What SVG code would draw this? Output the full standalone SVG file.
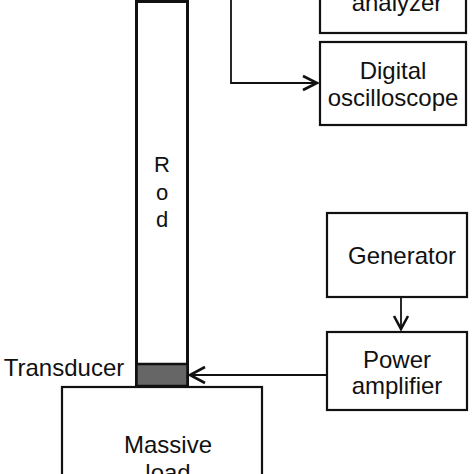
<svg xmlns="http://www.w3.org/2000/svg" width="474" height="474" viewBox="0 0 474 474">
<style>
.box{fill:#fff;stroke:#111;stroke-width:2.2}
.rod{fill:#fff;stroke:#111;stroke-width:3}
.t{font-family:"Liberation Sans",Arial,sans-serif;font-size:24px;fill:#111;text-anchor:middle}
.r{font-size:22px}
.ln{fill:none;stroke:#111;stroke-width:1.8}
.ah{fill:none;stroke:#111;stroke-width:2.6;stroke-linejoin:miter}
</style>
<rect width="474" height="474" fill="#fff"/>
<g id="rod">
<rect class="rod" x="136.5" y="1.5" width="51" height="383"/>
<text class="t r" x="162" y="172">R</text>
<text class="t r" x="162" y="200">o</text>
<text class="t r" x="162" y="227">d</text>
</g>
<g id="transducer">
<rect x="136.5" y="364" width="51" height="22" fill="#666" stroke="#111" stroke-width="2.5"/>
<text class="t" x="64" y="376">Transducer</text>
</g>
<g id="massive-load">
<rect class="box" x="62" y="387" width="200" height="100"/>
<text class="t" x="168" y="453">Massive</text>
<text class="t" x="168" y="481">load</text>
</g>
<g id="spectrum-analyzer">
<rect class="box" x="320" y="-20" width="146" height="53"/>
<text class="t" x="397" y="11">analyzer</text>
</g>
<g id="digital-oscilloscope">
<rect class="box" x="320" y="42" width="146" height="83"/>
<text class="t" x="393" y="79">Digital</text>
<text class="t" x="393" y="106">oscilloscope</text>
</g>
<g id="generator">
<rect class="box" x="327" y="213" width="140" height="84"/>
<text class="t" x="402" y="264">Generator</text>
</g>
<g id="power-amplifier">
<rect class="box" x="327" y="332" width="140" height="78"/>
<text class="t" x="397" y="368">Power</text>
<text class="t" x="397" y="394">amplifier</text>
</g>
<g id="connectors">
<polyline class="ln" points="231,0 231,83 317,83"/>
<polyline class="ah" points="303,76 317,83 303,90"/>
<line class="ln" x1="401" y1="297" x2="401" y2="329"/>
<polyline class="ah" points="394,316 401,329 408,316"/>
<line class="ln" x1="327" y1="375" x2="190" y2="375"/>
<polyline class="ah" points="205,367 190,375 205,383"/>
</g>
</svg>
